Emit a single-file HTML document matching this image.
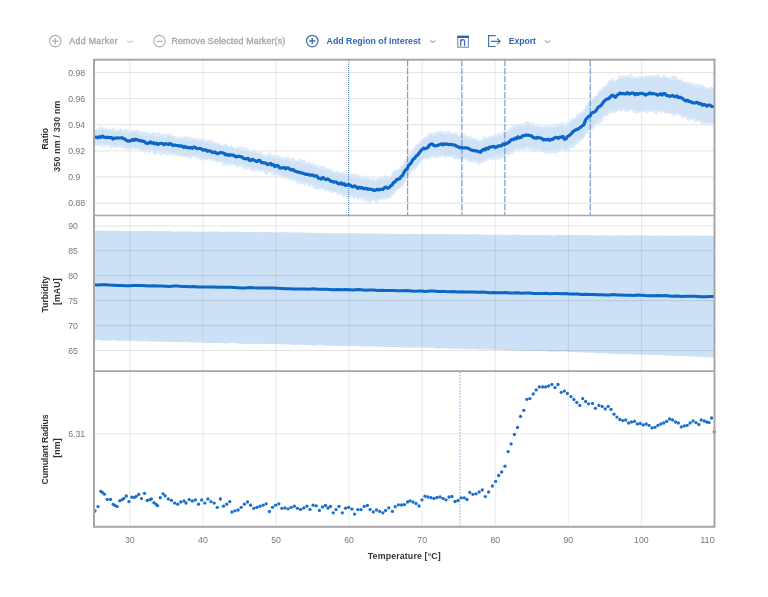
<!DOCTYPE html>
<html><head><meta charset="utf-8"><title>Chart</title>
<style>
html,body{margin:0;padding:0;background:#fff;width:768px;height:597px;overflow:hidden}
svg{display:block;filter:blur(0.4px);font-family:"Liberation Sans",Arial,sans-serif}
.tb{font-size:8.8px;font-weight:bold}
.tick{font-size:9.8px;fill:#787878}
.ttl{font-size:8.8px;font-weight:bold;fill:#333}
</style></head><body>
<svg width="768" height="597" viewBox="0 0 768 597">
<rect width="768" height="597" fill="#fff"/>
<!-- toolbar -->
<g class="tb">
 <g fill="none" stroke="#b0b0b0" stroke-width="1.15">
  <circle cx="55.25" cy="41.05" r="5.75"/><path d="M55.25 37.9V44.2M52.1 41.05H58.4" stroke-width="1.3"/>
  <path d="M127.2 40.6L129.9 42.6L132.6 40.6" stroke="#c4c4c4"/>
  <circle cx="159.55" cy="41.1" r="5.75"/><path d="M156.6 41.4H162.6" stroke-width="1.3"/>
 </g>
 <text x="69.3" y="44.4" fill="#a6a6a6" font-weight="normal" stroke="#a6a6a6" stroke-width="0.35" textLength="48.4">Add Marker</text>
 <text x="171.4" y="44.4" fill="#a6a6a6" font-weight="normal" stroke="#a6a6a6" stroke-width="0.35" textLength="113.8">Remove Selected Marker(s)</text>
 <g fill="none" stroke="#3f6db0" stroke-width="1.2">
  <circle cx="312.25" cy="41.05" r="5.75"/><path d="M312.25 37.9V44.2M309.1 41.05H315.4" stroke-width="1.4"/>
  <path d="M430 40.6L432.7 42.6L435.4 40.6" stroke="#9cb3d6"/>
  <rect x="457.8" y="36.2" width="10.6" height="11" stroke="#6f8fbf" stroke-width="1.1"/>
  <path d="M457.3 36.9H468.9" stroke-width="2.2" stroke="#2f62ad"/>
  <path d="M460.7 46V39.2M460.7 41.6Q461.3 39.6 462.9 39.6Q464.6 39.6 464.6 41.4V46" stroke-width="1.3" stroke="#4a6fa8"/>
  <path d="M495.8 35.6H488.6V46.5H495.8M491 41.3H499.8M497.2 38.5L500.2 41.3L497.2 44.1" stroke-width="1.15" stroke="#4670ad"/>
  <path d="M544.8 40.6L547.5 42.6L550.2 40.6" stroke="#9cb3d6"/>
 </g>
 <text x="326.6" y="44.4" fill="#2e68b8" textLength="94.2">Add Region of Interest</text>
 <text x="508.7" y="44.4" fill="#2e68b8" textLength="27.3">Export</text>
</g>
<!-- middle band -->
<path d="M93.5,230.8 L97.5,230.4 L101.5,230.7 L105.5,230.6 L109.5,230.8 L113.5,230.7 L117.5,230.6 L121.5,231 L125.5,230.9 L129.5,231 L133.5,231.1 L137.5,231.2 L141.5,230.7 L145.5,230.9 L149.5,230.8 L153.5,231.1 L157.5,231.3 L161.5,231.3 L165.5,230.9 L169.5,231 L173.5,231.5 L177.5,231.4 L181.5,231.3 L185.5,231.4 L189.5,231.2 L193.5,231.7 L197.5,231.4 L201.5,231.8 L205.5,231.6 L209.5,231.4 L213.5,231.5 L217.5,231.5 L221.5,232 L225.5,231.8 L229.5,231.5 L233.5,231.6 L237.5,231.8 L241.5,231.9 L245.5,232 L249.5,231.9 L253.5,232 L257.5,231.8 L261.5,232.2 L265.5,232.1 L269.5,232 L273.5,232.3 L277.5,232.6 L281.5,232.1 L285.5,232.2 L289.5,232.6 L293.5,232.4 L297.5,232.5 L301.5,232.6 L305.5,232.5 L309.5,232.8 L313.5,232.8 L317.5,233.1 L321.5,233.2 L325.5,232.7 L329.5,233 L333.5,233.2 L337.5,233.3 L341.5,233.3 L345.5,233.3 L349.5,233.3 L353.5,233.2 L357.5,233.2 L361.5,233.6 L365.5,233.6 L369.5,233.7 L373.5,233.6 L377.5,233.5 L381.5,233.8 L385.5,233.8 L389.5,233.7 L393.5,233.9 L397.5,233.7 L401.5,233.9 L405.5,233.9 L409.5,233.7 L413.5,233.9 L417.5,233.9 L421.5,234.3 L425.5,234.1 L429.5,234 L433.5,234 L437.5,234 L441.5,234.1 L445.5,234 L449.5,234 L453.5,234.5 L457.5,234.3 L461.5,234.3 L465.5,234.4 L469.5,234.3 L473.5,234.3 L477.5,234.2 L481.5,234.4 L485.5,234.5 L489.5,234.7 L493.5,234.7 L497.5,234.9 L501.5,234.6 L505.5,235 L509.5,234.8 L513.5,234.5 L517.5,234.6 L521.5,234.9 L525.5,235.2 L529.5,234.8 L533.5,235.1 L537.5,235 L541.5,235.3 L545.5,234.8 L549.5,235.1 L553.5,235.4 L557.5,235 L561.5,235 L565.5,234.9 L569.5,235 L573.5,235.1 L577.5,235.3 L581.5,235.1 L585.5,235.2 L589.5,235.1 L593.5,235.3 L597.5,235.5 L601.5,235.4 L605.5,235.1 L609.5,235.5 L613.5,235.6 L617.5,235.4 L621.5,235.1 L625.5,235.6 L629.5,235.6 L633.5,235.3 L637.5,235.2 L641.5,235.3 L645.5,235.5 L649.5,235.7 L653.5,235.6 L657.5,235.8 L661.5,235.4 L665.5,235.5 L669.5,235.7 L673.5,235.7 L677.5,235.6 L681.5,235.7 L685.5,235.5 L689.5,235.4 L693.5,235.6 L697.5,235.4 L701.5,235.8 L705.5,235.6 L709.5,235.8 L713.5,235.9 L714.5,235.7 L714.5,357.3 L713.5,357.1 L709.5,357.2 L705.5,357.2 L701.5,356.7 L697.5,356.8 L693.5,356.4 L689.5,356.4 L685.5,356 L681.5,356.1 L677.5,355.7 L673.5,356.1 L669.5,355.6 L665.5,355.8 L661.5,355.1 L657.5,355 L653.5,355.1 L649.5,354.8 L645.5,354.8 L641.5,354.4 L637.5,354.6 L633.5,354.5 L629.5,354.1 L625.5,353.8 L621.5,354.2 L617.5,354 L613.5,353.8 L609.5,353.7 L605.5,353.2 L601.5,352.9 L597.5,353.2 L593.5,352.7 L589.5,352.5 L585.5,352.7 L581.5,352.2 L577.5,352.6 L573.5,351.9 L569.5,352.3 L565.5,351.6 L561.5,351.4 L557.5,351.5 L553.5,351.7 L549.5,351.5 L545.5,351 L541.5,351.3 L537.5,351.1 L533.5,350.8 L529.5,351 L525.5,350.5 L521.5,350.7 L517.5,350.5 L513.5,350.3 L509.5,350.2 L505.5,350.2 L501.5,349.8 L497.5,350.1 L493.5,349.7 L489.5,349.5 L485.5,349.4 L481.5,349.6 L477.5,349.5 L473.5,349.1 L469.5,349.3 L465.5,349.2 L461.5,348.7 L457.5,348.8 L453.5,348.5 L449.5,348.8 L445.5,348.3 L441.5,348.4 L437.5,348.4 L433.5,347.9 L429.5,347.8 L425.5,347.8 L421.5,347.6 L417.5,347.5 L413.5,347.4 L409.5,347.5 L405.5,347.6 L401.5,347.5 L397.5,347.1 L393.5,347.1 L389.5,346.7 L385.5,347.1 L381.5,346.7 L377.5,346.8 L373.5,346.3 L369.5,346.7 L365.5,346.2 L361.5,346.6 L357.5,346.1 L353.5,346.1 L349.5,346.2 L345.5,345.9 L341.5,346 L337.5,345.8 L333.5,346 L329.5,345.5 L325.5,345.7 L321.5,345.1 L317.5,345.1 L313.5,345.5 L309.5,345.3 L305.5,344.9 L301.5,344.8 L297.5,344.8 L293.5,345.1 L289.5,344.5 L285.5,344.6 L281.5,344.5 L277.5,344.2 L273.5,344.1 L269.5,344 L265.5,343.9 L261.5,344.2 L257.5,343.8 L253.5,344.2 L249.5,343.7 L245.5,343.9 L241.5,343.7 L237.5,343.5 L233.5,343.1 L229.5,343.1 L225.5,343.5 L221.5,343.1 L217.5,342.9 L213.5,342.9 L209.5,343.1 L205.5,342.9 L201.5,342.5 L197.5,342.7 L193.5,342.6 L189.5,342.5 L185.5,342.1 L181.5,342.3 L177.5,342 L173.5,342.1 L169.5,342 L165.5,341.8 L161.5,341.8 L157.5,341.6 L153.5,341.5 L149.5,341.6 L145.5,341.1 L141.5,341.4 L137.5,340.9 L133.5,340.8 L129.5,340.7 L125.5,340.8 L121.5,340.9 L117.5,340.7 L113.5,340.3 L109.5,340.8 L105.5,340.4 L101.5,340.5 L97.5,339.9 L93.5,340.1Z" fill="#cde1f6"/>
<!-- gridlines -->
<g stroke="#000" stroke-opacity="0.085" stroke-width="1"><line x1="129.8" y1="59" x2="129.8" y2="527"/><line x1="202.9" y1="59" x2="202.9" y2="527"/><line x1="276" y1="59" x2="276" y2="527"/><line x1="349.1" y1="59" x2="349.1" y2="527"/><line x1="422.2" y1="59" x2="422.2" y2="527"/><line x1="495.3" y1="59" x2="495.3" y2="527"/><line x1="568.3" y1="59" x2="568.3" y2="527"/><line x1="641.4" y1="59" x2="641.4" y2="527"/></g>
<g stroke="#000" stroke-opacity="0.115" stroke-width="1"><line x1="93.5" y1="72.6" x2="714.5" y2="72.6"/><line x1="93.5" y1="98.7" x2="714.5" y2="98.7"/><line x1="93.5" y1="124.8" x2="714.5" y2="124.8"/><line x1="93.5" y1="150.9" x2="714.5" y2="150.9"/><line x1="93.5" y1="177" x2="714.5" y2="177"/><line x1="93.5" y1="203.2" x2="714.5" y2="203.2"/><line x1="93.5" y1="225.9" x2="714.5" y2="225.9"/><line x1="93.5" y1="250.8" x2="714.5" y2="250.8"/><line x1="93.5" y1="275.7" x2="714.5" y2="275.7"/><line x1="93.5" y1="300.7" x2="714.5" y2="300.7"/><line x1="93.5" y1="325.6" x2="714.5" y2="325.6"/><line x1="93.5" y1="350.5" x2="714.5" y2="350.5"/><line x1="93.5" y1="433.9" x2="714.5" y2="433.9"/></g>
<!-- top band -->
<g opacity="0.93"><path d="M93.5,128.3 L95,129.5 L96.5,128.4 L98,128.8 L99.5,126.9 L101,126.4 L102.5,127.8 L104,127 L105.5,127.4 L107,128.6 L108.5,129.4 L110,127.7 L111.5,129.5 L113,127.1 L114.5,127.9 L116,130.8 L117.5,130.1 L119,129.4 L120.5,127.1 L122,130.3 L123.5,129.7 L125,129.1 L126.5,129 L128,129.7 L129.5,131.4 L131,129 L132.5,131.1 L134,129.5 L135.5,131.2 L137,129 L138.5,130.6 L140,132 L141.5,130.6 L143,131.9 L144.5,131.9 L146,132 L147.5,132.1 L149,133.9 L150.5,132.2 L152,133.7 L153.5,131.3 L155,133 L156.5,133.2 L158,133.6 L159.5,132.3 L161,134.7 L162.5,132.8 L164,133.9 L165.5,133.1 L167,134.4 L168.5,132.7 L170,135.1 L171.5,133.4 L173,136.6 L174.5,135.4 L176,137.3 L177.5,137.4 L179,137.3 L180.5,137.4 L182,136.2 L183.5,137.9 L185,135.8 L186.5,137.2 L188,136 L189.5,138.4 L191,136 L192.5,138.4 L194,138.6 L195.5,137.9 L197,138.5 L198.5,138.2 L200,138.8 L201.5,139.1 L203,137.9 L204.5,139.9 L206,141 L207.5,140 L209,140.2 L210.5,139.3 L212,139.7 L213.5,141.7 L215,142.7 L216.5,143.3 L218,142.8 L219.5,143 L221,144.9 L222.5,144.8 L224,144.6 L225.5,143 L227,144.5 L228.5,146.4 L230,146.4 L231.5,144.1 L233,146.9 L234.5,147.7 L236,147.7 L237.5,146.8 L239,146 L240.5,147.4 L242,145.9 L243.5,146.6 L245,148.7 L246.5,147.3 L248,147.7 L249.5,150.1 L251,151.3 L252.5,150.5 L254,149.1 L255.5,151.2 L257,152 L258.5,152.9 L260,150.8 L261.5,151.9 L263,153.8 L264.5,154.9 L266,154.5 L267.5,154.2 L269,153.1 L270.5,152.3 L272,155.1 L273.5,155.3 L275,154.6 L276.5,156.9 L278,155 L279.5,155.8 L281,156.4 L282.5,157.8 L284,158.1 L285.5,156.4 L287,156.9 L288.5,156.5 L290,159.3 L291.5,158 L293,157 L294.5,159.4 L296,160 L297.5,161.3 L299,159 L300.5,158.6 L302,160.3 L303.5,159.4 L305,159.6 L306.5,163.4 L308,161.1 L309.5,162.6 L311,164.2 L312.5,162.9 L314,162.4 L315.5,165.6 L317,163.3 L318.5,166.5 L320,167.1 L321.5,165.3 L323,165.5 L324.5,166 L326,167.7 L327.5,168.4 L329,168.4 L330.5,169.8 L332,168.5 L333.5,171.6 L335,171.9 L336.5,169.8 L338,171.8 L339.5,172 L341,172.8 L342.5,170.9 L344,172.7 L345.5,173.2 L347,172.9 L348.5,174.1 L350,173.6 L351.5,174.4 L353,173.5 L354.5,173.5 L356,174.1 L357.5,174.4 L359,175.7 L360.5,174.9 L362,177.2 L363.5,177.2 L365,174.8 L366.5,176.3 L368,178.3 L369.5,176 L371,179.4 L372.5,176.8 L374,177.1 L375.5,179.8 L377,178.6 L378.5,178.1 L380,175.8 L381.5,177.9 L383,176.2 L384.5,174.9 L386,175.6 L387.5,175.5 L389,177.3 L390.5,176.2 L392,171.7 L393.5,171.6 L395,169.7 L396.5,169.5 L398,169.7 L399.5,168.6 L401,164.1 L402.5,165 L404,160.4 L405.5,159.7 L407,156.2 L408.5,154.5 L410,152 L411.5,149.9 L413,149.6 L414.5,145.7 L416,143.9 L417.5,144.5 L419,142.7 L420.5,140.1 L422,140 L423.5,138.6 L425,135.5 L426.5,137.3 L428,134.4 L429.5,132.6 L431,132.4 L432.5,133.3 L434,132 L435.5,131.2 L437,132.5 L438.5,130.2 L440,131.8 L441.5,129.7 L443,132.7 L444.5,130.5 L446,132.5 L447.5,130.7 L449,131.1 L450.5,132.3 L452,131.7 L453.5,134.2 L455,131.2 L456.5,131.7 L458,135.4 L459.5,135 L461,133.4 L462.5,133.2 L464,134.4 L465.5,134.8 L467,136.5 L468.5,136.9 L470,135.8 L471.5,137 L473,139.1 L474.5,138.1 L476,138 L477.5,139.5 L479,140.1 L480.5,140.5 L482,139.2 L483.5,137.5 L485,136.1 L486.5,138 L488,136.8 L489.5,135.4 L491,135.8 L492.5,135.8 L494,133.9 L495.5,135.8 L497,134.5 L498.5,132.5 L500,132.7 L501.5,134.7 L503,130.8 L504.5,131.6 L506,130.7 L507.5,131 L509,128.7 L510.5,127.1 L512,126.9 L513.5,125 L515,124.9 L516.5,124.2 L518,122.9 L519.5,124 L521,123.4 L522.5,122.6 L524,124.7 L525.5,121.7 L527,121.8 L528.5,120.7 L530,123.6 L531.5,122.9 L533,122.6 L534.5,123.5 L536,125.5 L537.5,124.4 L539,124.8 L540.5,126.1 L542,126.7 L543.5,125.6 L545,126.4 L546.5,124.8 L548,125.7 L549.5,125.6 L551,125.7 L552.5,126 L554,126.4 L555.5,122.9 L557,125.7 L558.5,122.7 L560,124.2 L561.5,121.3 L563,122.9 L564.5,123.4 L566,123.5 L567.5,122.2 L569,122.6 L570.5,118.5 L572,119.1 L573.5,118.3 L575,117.7 L576.5,114.2 L578,114.1 L579.5,112.6 L581,112.2 L582.5,110.4 L584,110.5 L585.5,105.7 L587,103.9 L588.5,102.2 L590,98.4 L591.5,98.7 L593,98.1 L594.5,95.6 L596,96.2 L597.5,93.4 L599,89.6 L600.5,90.3 L602,87.5 L603.5,86.5 L605,86.4 L606.5,84.3 L608,81.5 L609.5,80.2 L611,79.7 L612.5,78 L614,79 L615.5,80.7 L617,79.5 L618.5,76.7 L620,75.5 L621.5,76.1 L623,75.1 L624.5,75.1 L626,76.2 L627.5,73.9 L629,76.8 L630.5,73.7 L632,73.8 L633.5,77.3 L635,76.6 L636.5,77.3 L638,76.1 L639.5,76.3 L641,76.2 L642.5,76.2 L644,76.7 L645.5,74.5 L647,76.3 L648.5,75.5 L650,75.7 L651.5,75.2 L653,74.6 L654.5,75 L656,76.2 L657.5,74.1 L659,74 L660.5,76.7 L662,77 L663.5,73.6 L665,75.6 L666.5,77.8 L668,76.5 L669.5,78.2 L671,76.5 L672.5,75.8 L674,76 L675.5,75.9 L677,76.7 L678.5,79.4 L680,80 L681.5,78.2 L683,81.2 L684.5,81.8 L686,81.9 L687.5,81.7 L689,81.3 L690.5,83.4 L692,81.3 L693.5,84.6 L695,83.2 L696.5,82.9 L698,84.2 L699.5,84 L701,84.8 L702.5,84.6 L704,86.1 L705.5,87.6 L707,86.6 L708.5,88.6 L710,87.2 L711.5,85.4 L713,87.8 L714.5,86.5 L714.5,125.1 L713,125.8 L711.5,126.3 L710,123.7 L708.5,125.6 L707,125.6 L705.5,124.4 L704,124.7 L702.5,124.4 L701,123.2 L699.5,122.3 L698,120.2 L696.5,122.9 L695,122.2 L693.5,119.4 L692,121 L690.5,118.3 L689,121.3 L687.5,120.8 L686,119.6 L684.5,116.9 L683,119.1 L681.5,118.2 L680,115.5 L678.5,115.1 L677,113.7 L675.5,116.1 L674,116.4 L672.5,115.6 L671,113.4 L669.5,114 L668,112.8 L666.5,113.3 L665,114.1 L663.5,112.3 L662,112.6 L660.5,113.2 L659,111.6 L657.5,113.2 L656,114.6 L654.5,112.7 L653,112.3 L651.5,111.3 L650,112.9 L648.5,111.7 L647,114 L645.5,111.2 L644,111.5 L642.5,112.7 L641,111.7 L639.5,113 L638,113.1 L636.5,113 L635,113.6 L633.5,112.5 L632,110.6 L630.5,110.6 L629,111.3 L627.5,111.9 L626,112.2 L624.5,111.3 L623,110 L621.5,111.4 L620,111.8 L618.5,110.2 L617,112.1 L615.5,112.7 L614,113.2 L612.5,112.2 L611,113.8 L609.5,113.6 L608,116.2 L606.5,116.5 L605,115.6 L603.5,118.6 L602,121.7 L600.5,122.9 L599,123.1 L597.5,124.7 L596,124.1 L594.5,126.7 L593,129.3 L591.5,129.5 L590,131.6 L588.5,133.4 L587,133.8 L585.5,134.2 L584,138.4 L582.5,139.2 L581,140.2 L579.5,143 L578,143.4 L576.5,144.4 L575,146.1 L573.5,147.2 L572,147.8 L570.5,149.1 L569,150.1 L567.5,149.4 L566,153.3 L564.5,151.3 L563,149.2 L561.5,152.3 L560,149.6 L558.5,152.7 L557,152.8 L555.5,153.2 L554,153.7 L552.5,152.4 L551,153.9 L549.5,153.7 L548,152.9 L546.5,154.7 L545,152.8 L543.5,152.4 L542,151.9 L540.5,151.6 L539,150.4 L537.5,150.9 L536,152.6 L534.5,151.7 L533,152.3 L531.5,150.3 L530,150 L528.5,149.9 L527,147.9 L525.5,150.5 L524,149.8 L522.5,150.8 L521,149.4 L519.5,151.2 L518,150.4 L516.5,150.6 L515,149.6 L513.5,153.8 L512,153.8 L510.5,154.3 L509,156 L507.5,155.1 L506,156.2 L504.5,157.2 L503,157.4 L501.5,157.9 L500,159.5 L498.5,158.8 L497,160.6 L495.5,158.6 L494,159.7 L492.5,160.7 L491,158.9 L489.5,159.4 L488,159.3 L486.5,161.7 L485,161.3 L483.5,162.7 L482,162.7 L480.5,164.2 L479,164.2 L477.5,164.5 L476,161.7 L474.5,163.3 L473,162 L471.5,162.9 L470,162.3 L468.5,161.2 L467,160.7 L465.5,161.1 L464,158.2 L462.5,158.7 L461,160.1 L459.5,159.2 L458,160.1 L456.5,158.2 L455,159.8 L453.5,158.9 L452,156.9 L450.5,156.7 L449,157.2 L447.5,156.5 L446,159 L444.5,156.9 L443,156.5 L441.5,157.1 L440,157.3 L438.5,157.1 L437,158.5 L435.5,159.1 L434,157.1 L432.5,157.8 L431,157.8 L429.5,157.8 L428,160.3 L426.5,159.7 L425,159.3 L423.5,158.9 L422,160.3 L420.5,163 L419,164.5 L417.5,167.4 L416,168.8 L414.5,169.8 L413,170.9 L411.5,171.5 L410,176.1 L408.5,178 L407,179.1 L405.5,182.7 L404,184.2 L402.5,187.9 L401,187.1 L399.5,188.6 L398,189.3 L396.5,190.8 L395,193.6 L393.5,195.5 L392,195.9 L390.5,198.2 L389,198.7 L387.5,198.5 L386,200.3 L384.5,199.1 L383,199.9 L381.5,199.4 L380,199.4 L378.5,200.5 L377,202.9 L375.5,203.3 L374,200.4 L372.5,200.7 L371,203.1 L369.5,202.5 L368,202.2 L366.5,201.5 L365,200.3 L363.5,200.9 L362,200.6 L360.5,198.5 L359,198.6 L357.5,201 L356,197.3 L354.5,200 L353,198.6 L351.5,197.1 L350,198.2 L348.5,198.3 L347,197.8 L345.5,198 L344,196.5 L342.5,196.9 L341,194.4 L339.5,194.1 L338,196.1 L336.5,193.4 L335,192.4 L333.5,192.5 L332,193.5 L330.5,192.5 L329,191.6 L327.5,190.4 L326,191.8 L324.5,191.1 L323,188.4 L321.5,188.5 L320,189.6 L318.5,189.1 L317,190 L315.5,189 L314,189.1 L312.5,186.4 L311,185.5 L309.5,186.7 L308,186.2 L306.5,184.1 L305,185.2 L303.5,185.6 L302,183.3 L300.5,183.9 L299,184.8 L297.5,183.6 L296,182.1 L294.5,181.1 L293,181.5 L291.5,179.4 L290,180.6 L288.5,179.7 L287,177.6 L285.5,180 L284,177.9 L282.5,176.5 L281,177.5 L279.5,176.3 L278,175.9 L276.5,174.3 L275,174.6 L273.5,176.4 L272,174.1 L270.5,172.4 L269,171.7 L267.5,174.2 L266,175.5 L264.5,172.6 L263,171.1 L261.5,170.8 L260,172.1 L258.5,171.3 L257,169.9 L255.5,170.2 L254,172.1 L252.5,171.5 L251,170 L249.5,169 L248,169.1 L246.5,169.5 L245,169.4 L243.5,169.4 L242,166.4 L240.5,166.7 L239,166.3 L237.5,168.4 L236,165.3 L234.5,165.5 L233,164.8 L231.5,165.2 L230,167 L228.5,163.9 L227,166.4 L225.5,166.1 L224,165.2 L222.5,165.6 L221,162.2 L219.5,162.8 L218,161.4 L216.5,163.8 L215,161.1 L213.5,160.4 L212,161.3 L210.5,160.7 L209,159.3 L207.5,159.4 L206,161.5 L204.5,159.4 L203,160.5 L201.5,159.6 L200,160.1 L198.5,159.3 L197,157.8 L195.5,158.2 L194,156.6 L192.5,156.4 L191,158.4 L189.5,159.6 L188,157 L186.5,157.2 L185,157 L183.5,156 L182,158.2 L180.5,155.8 L179,155.3 L177.5,156.8 L176,155.7 L174.5,154.2 L173,157 L171.5,153.4 L170,155.9 L168.5,154.3 L167,155.9 L165.5,153.7 L164,154.5 L162.5,154.8 L161,155.7 L159.5,154.2 L158,152.5 L156.5,154.8 L155,154.3 L153.5,154.4 L152,151.6 L150.5,151.4 L149,154.2 L147.5,152.1 L146,152.6 L144.5,153.8 L143,151 L141.5,152.1 L140,149.6 L138.5,150.7 L137,148.6 L135.5,149.8 L134,148.5 L132.5,148.7 L131,149.5 L129.5,149.1 L128,150.3 L126.5,148.5 L125,148.9 L123.5,149 L122,146.4 L120.5,148.1 L119,147 L117.5,147.2 L116,148.4 L114.5,147.1 L113,147 L111.5,148.8 L110,147.9 L108.5,145.1 L107,146.9 L105.5,145.2 L104,148 L102.5,145.7 L101,147.8 L99.5,145.6 L98,145.6 L96.5,146.3 L95,146.2 L93.5,144.9Z" fill="#dbe9f9"/>
<path d="M93.5,131.2 L95,131 L96.5,130.5 L98,130.2 L99.5,130.5 L101,130.8 L102.5,129 L104,129.7 L105.5,130.5 L107,129.1 L108.5,130.8 L110,130.5 L111.5,131.5 L113,131.6 L114.5,131.4 L116,131.7 L117.5,130.5 L119,131.4 L120.5,130.7 L122,131.1 L123.5,131.4 L125,133.2 L126.5,132 L128,133.6 L129.5,133.5 L131,134 L132.5,132.9 L134,132 L135.5,132 L137,132.8 L138.5,133.3 L140,133.3 L141.5,135.3 L143,133.9 L144.5,135.6 L146,135.4 L147.5,135.2 L149,134.2 L150.5,135.9 L152,135.5 L153.5,136.1 L155,136.7 L156.5,136.7 L158,135.8 L159.5,135.9 L161,135.8 L162.5,136.9 L164,136.8 L165.5,137.7 L167,137 L168.5,135.9 L170,136 L171.5,137.3 L173,137.8 L174.5,137.9 L176,139.2 L177.5,137.9 L179,138.2 L180.5,139.7 L182,139.7 L183.5,139.8 L185,139.6 L186.5,138.7 L188,140.4 L189.5,140.5 L191,140.3 L192.5,139.2 L194,139.4 L195.5,140 L197,140 L198.5,141.4 L200,142 L201.5,140.9 L203,141.6 L204.5,143.1 L206,141.8 L207.5,141.9 L209,143.5 L210.5,143 L212,144.3 L213.5,144.4 L215,144.2 L216.5,145.4 L218,144.5 L219.5,145 L221,145.1 L222.5,146.7 L224,145.6 L225.5,146.3 L227,146.3 L228.5,146.5 L230,148.2 L231.5,148.1 L233,148 L234.5,148.5 L236,150 L237.5,148.5 L239,150.4 L240.5,150.3 L242,151 L243.5,150.9 L245,149.8 L246.5,151.7 L248,150.9 L249.5,152.9 L251,152.6 L252.5,152.1 L254,153.4 L255.5,152.4 L257,153.6 L258.5,153.2 L260,154.1 L261.5,155.3 L263,154.9 L264.5,156.7 L266,156.9 L267.5,157 L269,157 L270.5,156.5 L272,158 L273.5,158.5 L275,157.8 L276.5,158.6 L278,159 L279.5,158.7 L281,159.8 L282.5,159.2 L284,160.8 L285.5,159.9 L287,160.1 L288.5,159.5 L290,161.4 L291.5,160.9 L293,161.4 L294.5,162.6 L296,161.3 L297.5,161.7 L299,161.5 L300.5,163.1 L302,162.2 L303.5,163.7 L305,164.3 L306.5,165 L308,163.8 L309.5,165.1 L311,165.1 L312.5,165.9 L314,166.7 L315.5,166.4 L317,168.1 L318.5,168.8 L320,168.5 L321.5,169.5 L323,168.7 L324.5,169.6 L326,169 L327.5,170 L329,171.3 L330.5,171.9 L332,171 L333.5,173.3 L335,172.5 L336.5,173.5 L338,173.5 L339.5,173.5 L341,173 L342.5,175.3 L344,175.6 L345.5,175.7 L347,176.3 L348.5,176.2 L350,176.7 L351.5,176.8 L353,177.3 L354.5,177.5 L356,178.8 L357.5,178 L359,178 L360.5,180 L362,178.6 L363.5,179 L365,178.1 L366.5,178.9 L368,179.3 L369.5,179.2 L371,181.1 L372.5,180.8 L374,180.4 L375.5,181 L377,180.8 L378.5,179.8 L380,179.1 L381.5,179.3 L383,178.3 L384.5,179.9 L386,179 L387.5,178.1 L389,177.8 L390.5,176.7 L392,176.6 L393.5,173.5 L395,172.7 L396.5,171.1 L398,171.8 L399.5,169.3 L401,168.1 L402.5,166.8 L404,165.3 L405.5,162.7 L407,160.3 L408.5,158.2 L410,156.2 L411.5,154 L413,151.9 L414.5,149.6 L416,148 L417.5,146.9 L419,144.9 L420.5,142.8 L422,141.6 L423.5,139.5 L425,138.8 L426.5,138.9 L428,137.3 L429.5,135.4 L431,134.1 L432.5,135.1 L434,135.9 L435.5,135.6 L437,135.3 L438.5,133.7 L440,132.3 L441.5,133.7 L443,134.7 L444.5,134.2 L446,134.3 L447.5,134.8 L449,134.3 L450.5,134.4 L452,135.2 L453.5,134.2 L455,135 L456.5,135.8 L458,137.1 L459.5,136.5 L461,137.9 L462.5,137.2 L464,136.6 L465.5,138.6 L467,138.3 L468.5,139.7 L470,140.3 L471.5,140.6 L473,139.4 L474.5,140.4 L476,140.1 L477.5,141.5 L479,141.4 L480.5,142 L482,141 L483.5,140.3 L485,139.1 L486.5,140.1 L488,139.2 L489.5,138.2 L491,137.4 L492.5,137.8 L494,137.7 L495.5,136.5 L497,137.5 L498.5,135.9 L500,136.4 L501.5,135.8 L503,133.9 L504.5,134.5 L506,133.6 L507.5,131.7 L509,130.7 L510.5,130.9 L512,129.7 L513.5,127.9 L515,128.1 L516.5,127.4 L518,126.7 L519.5,127.7 L521,126.1 L522.5,126.7 L524,125.9 L525.5,125.2 L527,124.2 L528.5,125 L530,124.6 L531.5,125.5 L533,125.5 L534.5,126.3 L536,127.8 L537.5,127.1 L539,127.2 L540.5,127.2 L542,127.2 L543.5,128.3 L545,128.5 L546.5,128.5 L548,129.3 L549.5,128.1 L551,127.6 L552.5,128.6 L554,127.3 L555.5,127.6 L557,126.4 L558.5,126.2 L560,125.6 L561.5,125.5 L563,124.7 L564.5,127.7 L566,127.8 L567.5,125 L569,123.8 L570.5,122.9 L572,121.2 L573.5,119.7 L575,119 L576.5,118 L578,116.2 L579.5,114.6 L581,114.2 L582.5,113 L584,112.8 L585.5,107.9 L587,106.1 L588.5,103.8 L590,102.2 L591.5,102.1 L593,100.7 L594.5,97.9 L596,96.1 L597.5,95.7 L599,93.6 L600.5,92.6 L602,91.3 L603.5,89.3 L605,86.7 L606.5,86.5 L608,83.7 L609.5,82.5 L611,81.7 L612.5,80.6 L614,82.1 L615.5,82.7 L617,81.2 L618.5,79 L620,77.7 L621.5,78.8 L623,77.8 L624.5,79 L626,77.3 L627.5,77.3 L629,77.3 L630.5,78.3 L632,78.4 L633.5,78.8 L635,78.1 L636.5,79.3 L638,79.1 L639.5,78.5 L641,78.3 L642.5,77.3 L644,78.1 L645.5,79 L647,78.3 L648.5,77.8 L650,76.6 L651.5,78.4 L653,77.9 L654.5,77.3 L656,78.1 L657.5,77.8 L659,78.6 L660.5,77.6 L662,78 L663.5,78.7 L665,77.3 L666.5,77.8 L668,79 L669.5,80.2 L671,79.6 L672.5,80.3 L674,80.4 L675.5,79.1 L677,80.2 L678.5,80.2 L680,81.1 L681.5,82.2 L683,82.5 L684.5,83.2 L686,83.1 L687.5,85.3 L689,83.9 L690.5,86.1 L692,84.7 L693.5,85.8 L695,86.4 L696.5,87.4 L698,87 L699.5,87.3 L701,87 L702.5,87.4 L704,89.8 L705.5,89 L707,90.2 L708.5,88.8 L710,90.1 L711.5,89.1 L713,90.2 L714.5,89.3 L714.5,122.3 L713,121.8 L711.5,121.4 L710,122.5 L708.5,122.6 L707,123 L705.5,122.4 L704,121.2 L702.5,121.4 L701,119.4 L699.5,119 L698,120.1 L696.5,119.4 L695,117.9 L693.5,117.8 L692,118 L690.5,117.7 L689,117.6 L687.5,117.3 L686,115.4 L684.5,115.3 L683,115.3 L681.5,113.9 L680,114.5 L678.5,113.1 L677,112.3 L675.5,111.9 L674,112.9 L672.5,112.4 L671,113 L669.5,113 L668,112.3 L666.5,111 L665,110.8 L663.5,109.9 L662,110.2 L660.5,109.9 L659,110.8 L657.5,109.8 L656,109.9 L654.5,110.1 L653,109.6 L651.5,110 L650,109.4 L648.5,110.3 L647,109.1 L645.5,109.7 L644,110.5 L642.5,110.8 L641,110.2 L639.5,110.8 L638,110.5 L636.5,110 L635,109.3 L633.5,110.3 L632,109 L630.5,108 L629,109.5 L627.5,109.2 L626,108.1 L624.5,108.7 L623,107.3 L621.5,108.4 L620,106.6 L618.5,108.9 L617,109.5 L615.5,111.1 L614,109.8 L612.5,109.6 L611,110.1 L609.5,110.6 L608,111.5 L606.5,114 L605,115.6 L603.5,115.5 L602,117.2 L600.5,118.3 L599,120.6 L597.5,121.4 L596,123.5 L594.5,124 L593,126.3 L591.5,127.3 L590,127.7 L588.5,130 L587,130.7 L585.5,132.1 L584,137.5 L582.5,138.2 L581,138.9 L579.5,139.8 L578,139.2 L576.5,140.8 L575,142.7 L573.5,143.9 L572,144.3 L570.5,144.4 L569,146 L567.5,147.7 L566,150 L564.5,149.6 L563,146.8 L561.5,147.6 L560,149.7 L558.5,149.9 L557,149.7 L555.5,148.8 L554,150.6 L552.5,149.6 L551,150.4 L549.5,151.6 L548,151 L546.5,150.4 L545,151 L543.5,150.3 L542,150.9 L540.5,148.7 L539,149.1 L537.5,148.4 L536,148.5 L534.5,148 L533,147.5 L531.5,148.2 L530,147.8 L528.5,145.9 L527,146.3 L525.5,147.8 L524,148.1 L522.5,147.1 L521,148.5 L519.5,148.7 L518,147.3 L516.5,148.7 L515,149.6 L513.5,150.3 L512,150.1 L510.5,150.8 L509,152.7 L507.5,152.1 L506,152.9 L504.5,153.6 L503,153.6 L501.5,155.9 L500,156.6 L498.5,155.5 L497,155.6 L495.5,155.9 L494,156.5 L492.5,157.7 L491,157.1 L489.5,157.1 L488,157.1 L486.5,158.6 L485,158.7 L483.5,160.1 L482,161 L480.5,160.1 L479,162 L477.5,160.8 L476,159.6 L474.5,159.9 L473,159.3 L471.5,159.4 L470,160.4 L468.5,159.2 L467,157.4 L465.5,158.3 L464,157 L462.5,157.9 L461,156.8 L459.5,157.2 L458,156.5 L456.5,156.8 L455,155.8 L453.5,155.3 L452,155.5 L450.5,156.3 L449,155.5 L447.5,155 L446,155.3 L444.5,156.1 L443,155.5 L441.5,154.7 L440,153.6 L438.5,155.6 L437,154.5 L435.5,156 L434,154.9 L432.5,154 L431,154.6 L429.5,155 L428,156.3 L426.5,157.9 L425,157.3 L423.5,158.2 L422,158.9 L420.5,160.8 L419,162.3 L417.5,164.6 L416,165.1 L414.5,167.7 L413,168.6 L411.5,169 L410,171.3 L408.5,174.7 L407,176.6 L405.5,179.6 L404,181.7 L402.5,184.4 L401,186 L399.5,187 L398,188.8 L396.5,188.8 L395,190.9 L393.5,191.8 L392,193.6 L390.5,194.5 L389,196.7 L387.5,197.6 L386,197 L384.5,196.9 L383,197.4 L381.5,198.2 L380,198.3 L378.5,198.2 L377,199.1 L375.5,199.7 L374,200 L372.5,199.6 L371,199.2 L369.5,198.8 L368,197.8 L366.5,197.7 L365,196.8 L363.5,196.9 L362,197.6 L360.5,197.7 L359,197.6 L357.5,197.2 L356,196.1 L354.5,195.9 L353,195.2 L351.5,196.1 L350,194.4 L348.5,194 L347,193.2 L345.5,194.5 L344,193.6 L342.5,193.5 L341,191.8 L339.5,192.2 L338,191.2 L336.5,191.5 L335,191.4 L333.5,191.9 L332,190.5 L330.5,190.6 L329,190.1 L327.5,189.7 L326,187.8 L324.5,187.3 L323,188.4 L321.5,187.5 L320,187.1 L318.5,187.6 L317,185.5 L315.5,185.8 L314,185.9 L312.5,183.9 L311,183.4 L309.5,183.7 L308,182.5 L306.5,183.3 L305,181.7 L303.5,182.2 L302,181.9 L300.5,180.7 L299,180 L297.5,180.9 L296,179 L294.5,178.6 L293,177.5 L291.5,177.9 L290,177.1 L288.5,177.5 L287,176.8 L285.5,176.4 L284,176.3 L282.5,175.5 L281,174.7 L279.5,174.3 L278,174.1 L276.5,172.8 L275,173.8 L273.5,172 L272,171.8 L270.5,170.2 L269,171.8 L267.5,170.8 L266,170.3 L264.5,170.8 L263,169.4 L261.5,169.6 L260,169.1 L258.5,167.9 L257,168.3 L255.5,167.3 L254,167.3 L252.5,168.1 L251,166.6 L249.5,166.4 L248,166.4 L246.5,166 L245,164.5 L243.5,165 L242,164.1 L240.5,164.5 L239,163.8 L237.5,164 L236,165 L234.5,164.8 L233,163 L231.5,162.8 L230,162.4 L228.5,163.4 L227,163.2 L225.5,162.6 L224,161.5 L222.5,160.9 L221,160.5 L219.5,160.6 L218,161.3 L216.5,160.4 L215,159.2 L213.5,158.8 L212,159 L210.5,158.1 L209,158.5 L207.5,159 L206,157.9 L204.5,158.6 L203,158.4 L201.5,158.2 L200,156.4 L198.5,155.6 L197,155.3 L195.5,154.9 L194,154.7 L192.5,155.2 L191,156.2 L189.5,155.3 L188,156.3 L186.5,154.4 L185,155.8 L183.5,155.1 L182,153.6 L180.5,155.1 L179,153.7 L177.5,152.9 L176,154.6 L174.5,152.6 L173,152.5 L171.5,153.1 L170,151.8 L168.5,152.7 L167,151.7 L165.5,151.1 L164,152.8 L162.5,152.6 L161,150.8 L159.5,150.9 L158,150.3 L156.5,151.8 L155,151.2 L153.5,150.3 L152,149.7 L150.5,149.9 L149,150.9 L147.5,148.9 L146,149.5 L144.5,149 L143,149.6 L141.5,148.7 L140,147.6 L138.5,148.1 L137,147.7 L135.5,147.5 L134,146.5 L132.5,147.5 L131,147.6 L129.5,148.5 L128,146.9 L126.5,147.7 L125,146.7 L123.5,146.6 L122,144.8 L120.5,145 L119,144.1 L117.5,145.6 L116,146.2 L114.5,144.9 L113,146.1 L111.5,145.4 L110,143.8 L108.5,144.8 L107,144.5 L105.5,144.5 L104,143.9 L102.5,143.3 L101,143.5 L99.5,144.8 L98,144.5 L96.5,145.1 L95,144 L93.5,144.5Z" fill="#cde1f6"/></g>
<!-- marker lines -->
<g stroke="#5a88c6" stroke-width="1">
 <line x1="348.6" y1="60" x2="348.6" y2="215" stroke-dasharray="1 1" stroke="#5a88c6"/>
 <line x1="407.7" y1="60" x2="407.7" y2="215" stroke-dasharray="6.5 1.5"/>
 <line x1="461.9" y1="60" x2="461.9" y2="215" stroke-dasharray="6.5 1.5"/>
 <line x1="504.9" y1="60" x2="504.9" y2="215" stroke-dasharray="6.5 1.5"/>
 <line x1="590.2" y1="60" x2="590.2" y2="215" stroke-dasharray="6.5 1.5"/>
 <line x1="460" y1="372" x2="460" y2="526" stroke-dasharray="1.5 1.5" stroke="#7ea6da"/>
</g>
<path d="M93.5,136.7 L95,137.3 L96.5,137 L98,137.9 L99.5,136.6 L101,137.3 L102.5,136.1 L104,137.1 L105.5,137.6 L107,137.4 L108.5,137.4 L110,137.7 L111.5,137.5 L113,139 L114.5,138.1 L116,138.1 L117.5,137.9 L119,138 L120.5,138 L122,137.7 L123.5,138.6 L125,139 L126.5,140.6 L128,141.1 L129.5,140.9 L131,140.7 L132.5,139.4 L134,140.4 L135.5,139.2 L137,139.7 L138.5,140.4 L140,140.6 L141.5,141.1 L143,141.1 L144.5,141.7 L146,143.2 L147.5,143.4 L149,142.9 L150.5,141.9 L152,143.3 L153.5,142.7 L155,143.9 L156.5,143.1 L158,144.5 L159.5,143.5 L161,143.4 L162.5,143.5 L164,144.9 L165.5,143.6 L167,144 L168.5,144.6 L170,143.6 L171.5,144.2 L173,145.6 L174.5,145 L176,145.3 L177.5,145.5 L179,146.1 L180.5,145.8 L182,146 L183.5,147.4 L185,146.5 L186.5,147.6 L188,147.3 L189.5,148.1 L191,147.6 L192.5,148.3 L194,146.9 L195.5,147.5 L197,148.7 L198.5,148.5 L200,148.4 L201.5,149 L203,150.1 L204.5,149.7 L206,150 L207.5,151.3 L209,150.8 L210.5,151 L212,152.2 L213.5,152.5 L215,151.9 L216.5,153.4 L218,153.6 L219.5,152.8 L221,152.5 L222.5,152.9 L224,153.2 L225.5,154.8 L227,154.4 L228.5,155.4 L230,154.7 L231.5,155.2 L233,155.1 L234.5,155.8 L236,156.9 L237.5,156.5 L239,156.3 L240.5,156.8 L242,156.8 L243.5,158.5 L245,158.7 L246.5,159 L248,158.3 L249.5,160.3 L251,160.4 L252.5,159.3 L254,160.1 L255.5,161 L257,161.6 L258.5,160.3 L260,160.6 L261.5,162.6 L263,162.6 L264.5,163 L266,163 L267.5,164.6 L269,164 L270.5,163.4 L272,165.1 L273.5,164.6 L275,166.6 L276.5,165.7 L278,165.7 L279.5,167.8 L281,167.9 L282.5,167.8 L284,167.5 L285.5,168.8 L287,167.8 L288.5,168 L290,169.4 L291.5,170.1 L293,169.3 L294.5,170.8 L296,171.4 L297.5,172 L299,172.2 L300.5,172.6 L302,173.1 L303.5,173.4 L305,174.1 L306.5,174.4 L308,174.4 L309.5,175.2 L311,175.1 L312.5,174.8 L314,176.2 L315.5,175.7 L317,176.1 L318.5,178.2 L320,178.3 L321.5,179 L323,177.4 L324.5,178.9 L326,179.6 L327.5,178.9 L329,179.6 L330.5,181 L332,181.4 L333.5,182.2 L335,181.9 L336.5,182 L338,183.6 L339.5,183.8 L341,182.9 L342.5,184.4 L344,183.7 L345.5,185.3 L347,185.2 L348.5,184.4 L350,184.9 L351.5,186.2 L353,186.9 L354.5,185.9 L356,186.4 L357.5,188.4 L359,187.3 L360.5,187.9 L362,187.5 L363.5,188.6 L365,188.6 L366.5,188.3 L368,189.3 L369.5,189 L371,189.3 L372.5,189.7 L374,190.5 L375.5,190.1 L377,189.3 L378.5,190 L380,189.3 L381.5,189.3 L383,189.3 L384.5,187.7 L386,187.1 L387.5,188.3 L389,187.8 L390.5,185.9 L392,185.1 L393.5,182.5 L395,181.9 L396.5,179.8 L398,179 L399.5,179 L401,176.5 L402.5,175.6 L404,172.3 L405.5,170.1 L407,169.1 L408.5,165.5 L410,164.2 L411.5,162.2 L413,159.3 L414.5,158.6 L416,156.1 L417.5,155.3 L419,153.2 L420.5,151.3 L422,149.6 L423.5,148.1 L425,148.8 L426.5,148.1 L428,147.5 L429.5,144.9 L431,144 L432.5,144.1 L434,145.7 L435.5,145.9 L437,145.5 L438.5,145.1 L440,144.6 L441.5,143.9 L443,144.8 L444.5,143.8 L446,144.1 L447.5,144.2 L449,144.7 L450.5,144.3 L452,144.6 L453.5,145 L455,145 L456.5,146.3 L458,146.7 L459.5,147.7 L461,147.5 L462.5,147.9 L464,147.9 L465.5,147.9 L467,147.9 L468.5,148.5 L470,149.3 L471.5,150.1 L473,150.6 L474.5,150.5 L476,151 L477.5,151.2 L479,151.7 L480.5,152.3 L482,150.3 L483.5,149.3 L485,150 L486.5,148.1 L488,148.9 L489.5,147.1 L491,147 L492.5,146.6 L494,146.4 L495.5,147.7 L497,146.9 L498.5,145.9 L500,145.8 L501.5,145.9 L503,143.9 L504.5,144.7 L506,143.5 L507.5,143.1 L509,142.1 L510.5,140.4 L512,139.4 L513.5,139.7 L515,138.1 L516.5,138.8 L518,136.8 L519.5,137.8 L521,137.4 L522.5,135.9 L524,135.7 L525.5,135.2 L527,135 L528.5,135.2 L530,135.5 L531.5,135.9 L533,137.3 L534.5,137.9 L536,138.3 L537.5,137.3 L539,137.8 L540.5,138.1 L542,138.6 L543.5,140 L545,139.5 L546.5,139.9 L548,139.2 L549.5,140.3 L551,139.4 L552.5,139.4 L554,138.3 L555.5,137.4 L557,137.5 L558.5,138.3 L560,137.1 L561.5,137.2 L563,136.5 L564.5,139.3 L566,138.8 L567.5,136.4 L569,135.6 L570.5,134.5 L572,132.9 L573.5,131.1 L575,130.3 L576.5,129.3 L578,129.1 L579.5,128 L581,126.9 L582.5,125.6 L584,124.6 L585.5,119.9 L587,118.1 L588.5,116.5 L590,116 L591.5,113.2 L593,112.4 L594.5,111.9 L596,110.8 L597.5,108.3 L599,106.4 L600.5,105.9 L602,104.2 L603.5,102 L605,100.4 L606.5,99.3 L608,98.9 L609.5,97.9 L611,96 L612.5,95.1 L614,96.5 L615.5,97.4 L617,95.1 L618.5,94.3 L620,93.1 L621.5,93.7 L623,93.5 L624.5,93.8 L626,93.8 L627.5,92.6 L629,94.1 L630.5,93.6 L632,93.1 L633.5,93.1 L635,94.8 L636.5,93.4 L638,94.4 L639.5,93.6 L641,93.3 L642.5,93.4 L644,93.9 L645.5,95.1 L647,94.1 L648.5,94 L650,92.8 L651.5,93.8 L653,93.5 L654.5,94 L656,94 L657.5,95.1 L659,94.8 L660.5,93.7 L662,95 L663.5,93.6 L665,93.7 L666.5,95.5 L668,95.7 L669.5,96.1 L671,96.1 L672.5,95.4 L674,96.4 L675.5,96.7 L677,96 L678.5,97.7 L680,97.2 L681.5,97.9 L683,98.9 L684.5,100.2 L686,101 L687.5,100.2 L689,101.5 L690.5,101.7 L692,102.5 L693.5,102.9 L695,103 L696.5,102.4 L698,102.8 L699.5,104 L701,103.6 L702.5,105.2 L704,104.5 L705.5,105 L707,106.1 L708.5,105.2 L710,105.2 L711.5,106.3 L713,106.5 L714.5,106.7" fill="none" stroke="#0b66c6" stroke-width="3.2" stroke-linejoin="round"/>
<path d="M93.5,284.7 L97.5,285.1 L101.5,284.8 L105.5,284.8 L109.5,285.1 L113.5,285.3 L117.5,285.5 L121.5,285.5 L125.5,285.7 L129.5,285.8 L133.5,285.6 L137.5,285.6 L141.5,285.5 L145.5,285.7 L149.5,285.9 L153.5,285.7 L157.5,286.1 L161.5,285.9 L165.5,286.2 L169.5,286.6 L173.5,286.1 L177.5,286.1 L181.5,286.5 L185.5,286.4 L189.5,286.8 L193.5,286.4 L197.5,287 L201.5,287.1 L205.5,287.1 L209.5,287 L213.5,287 L217.5,287.3 L221.5,287.3 L225.5,287.3 L229.5,287.3 L233.5,287.5 L237.5,287.7 L241.5,287.9 L245.5,288 L249.5,287.6 L253.5,287.8 L257.5,287.9 L261.5,288.1 L265.5,288 L269.5,288 L273.5,288 L277.5,288.2 L281.5,288.4 L285.5,288.8 L289.5,288.8 L293.5,288.9 L297.5,289 L301.5,289.1 L305.5,289 L309.5,289.2 L313.5,288.8 L317.5,289.2 L321.5,289.3 L325.5,289.2 L329.5,289.4 L333.5,289.7 L337.5,289.5 L341.5,289.7 L345.5,289.5 L349.5,289.7 L353.5,290.1 L357.5,289.6 L361.5,289.8 L365.5,290.2 L369.5,290.1 L373.5,290 L377.5,290.4 L381.5,290.3 L385.5,290.5 L389.5,290.5 L393.5,290.6 L397.5,290.7 L401.5,290.7 L405.5,290.6 L409.5,290.7 L413.5,291.2 L417.5,291.1 L421.5,290.9 L425.5,291.4 L429.5,291.1 L433.5,291.1 L437.5,291.5 L441.5,291.4 L445.5,291.6 L449.5,291.7 L453.5,291.6 L457.5,291.9 L461.5,291.7 L465.5,292 L469.5,292.1 L473.5,291.9 L477.5,292.2 L481.5,292 L485.5,292.3 L489.5,292.7 L493.5,292.6 L497.5,292.7 L501.5,292.8 L505.5,292.5 L509.5,293.1 L513.5,293 L517.5,292.8 L521.5,293.3 L525.5,293.1 L529.5,293 L533.5,293.6 L537.5,293.4 L541.5,293.6 L545.5,293.3 L549.5,293.8 L553.5,293.4 L557.5,293.6 L561.5,293.8 L565.5,293.6 L569.5,294.1 L573.5,293.9 L577.5,294 L581.5,294.4 L585.5,294.3 L589.5,294.6 L593.5,294.5 L597.5,294.8 L601.5,294.7 L605.5,294.9 L609.5,295 L613.5,294.6 L617.5,295.1 L621.5,294.9 L625.5,295.2 L629.5,295.3 L633.5,295.4 L637.5,295.1 L641.5,295.3 L645.5,295.6 L649.5,295.8 L653.5,295.8 L657.5,295.4 L661.5,295.8 L665.5,295.6 L669.5,296 L673.5,296.2 L677.5,295.9 L681.5,296.4 L685.5,296.3 L689.5,296.2 L693.5,296.2 L697.5,296.4 L701.5,296.8 L705.5,296.7 L709.5,296.5 L713.5,296.5 L714.5,296.6" fill="none" stroke="#0b66c6" stroke-width="3" stroke-linejoin="round"/>
<g fill="#1a6fcc"><circle cx="95" cy="511" r="1.65"/><circle cx="98" cy="506.6" r="1.65"/><circle cx="100.8" cy="491.3" r="1.65"/><circle cx="102.4" cy="492.4" r="1.65"/><circle cx="104.4" cy="494.2" r="1.65"/><circle cx="107.2" cy="499.4" r="1.65"/><circle cx="110.5" cy="499.4" r="1.65"/><circle cx="113.2" cy="504.3" r="1.65"/><circle cx="114.9" cy="505.5" r="1.65"/><circle cx="117.1" cy="506.6" r="1.65"/><circle cx="119.7" cy="500.8" r="1.65"/><circle cx="122.1" cy="499.7" r="1.65"/><circle cx="123.8" cy="498.3" r="1.65"/><circle cx="126.3" cy="496" r="1.65"/><circle cx="129" cy="501.6" r="1.65"/><circle cx="131.8" cy="497.2" r="1.65"/><circle cx="134.3" cy="497.5" r="1.65"/><circle cx="136.3" cy="496.4" r="1.65"/><circle cx="138.7" cy="494.4" r="1.65"/><circle cx="141.5" cy="498.6" r="1.65"/><circle cx="144.5" cy="493.3" r="1.65"/><circle cx="147.3" cy="500.5" r="1.65"/><circle cx="149.8" cy="499.7" r="1.65"/><circle cx="151.4" cy="499" r="1.65"/><circle cx="154" cy="502.7" r="1.65"/><circle cx="156.2" cy="504.3" r="1.65"/><circle cx="157.5" cy="505.7" r="1.65"/><circle cx="160.3" cy="497.7" r="1.65"/><circle cx="163.1" cy="493.8" r="1.65"/><circle cx="165.2" cy="495.8" r="1.65"/><circle cx="168.3" cy="499" r="1.65"/><circle cx="171.5" cy="500.4" r="1.65"/><circle cx="174.6" cy="503.1" r="1.65"/><circle cx="177.7" cy="504.2" r="1.65"/><circle cx="180.8" cy="502" r="1.65"/><circle cx="184" cy="501" r="1.65"/><circle cx="186" cy="503" r="1.65"/><circle cx="189.2" cy="499.6" r="1.65"/><circle cx="192.3" cy="501" r="1.65"/><circle cx="195.4" cy="500" r="1.65"/><circle cx="198.5" cy="504.2" r="1.65"/><circle cx="201.7" cy="500" r="1.65"/><circle cx="204.8" cy="503.1" r="1.65"/><circle cx="207.9" cy="499" r="1.65"/><circle cx="211" cy="501.7" r="1.65"/><circle cx="214.2" cy="503.1" r="1.65"/><circle cx="217.3" cy="507.3" r="1.65"/><circle cx="220.4" cy="499" r="1.65"/><circle cx="223.5" cy="506.2" r="1.65"/><circle cx="226.7" cy="504.2" r="1.65"/><circle cx="229.8" cy="501.7" r="1.65"/><circle cx="231.9" cy="512" r="1.65"/><circle cx="235" cy="510.8" r="1.65"/><circle cx="238.1" cy="510" r="1.65"/><circle cx="241.2" cy="507.3" r="1.65"/><circle cx="244.4" cy="504.2" r="1.65"/><circle cx="247.5" cy="502" r="1.65"/><circle cx="250.6" cy="505.2" r="1.65"/><circle cx="253.8" cy="508.3" r="1.65"/><circle cx="256.9" cy="507.3" r="1.65"/><circle cx="260" cy="506.2" r="1.65"/><circle cx="263.1" cy="505.2" r="1.65"/><circle cx="266.2" cy="503.8" r="1.65"/><circle cx="269.4" cy="511.5" r="1.65"/><circle cx="272.5" cy="507.3" r="1.65"/><circle cx="275.6" cy="505.2" r="1.65"/><circle cx="278.8" cy="503.8" r="1.65"/><circle cx="281.9" cy="508.3" r="1.65"/><circle cx="285" cy="508" r="1.65"/><circle cx="288.1" cy="508.8" r="1.65"/><circle cx="291.2" cy="507.3" r="1.65"/><circle cx="294.4" cy="506.2" r="1.65"/><circle cx="297.5" cy="508.3" r="1.65"/><circle cx="300.6" cy="509.4" r="1.65"/><circle cx="303.8" cy="508" r="1.65"/><circle cx="306.9" cy="506.2" r="1.65"/><circle cx="310" cy="509.4" r="1.65"/><circle cx="313.1" cy="505.2" r="1.65"/><circle cx="316.2" cy="505.8" r="1.65"/><circle cx="319.4" cy="510.4" r="1.65"/><circle cx="322.5" cy="507" r="1.65"/><circle cx="325.5" cy="505.5" r="1.65"/><circle cx="328" cy="508" r="1.65"/><circle cx="330.5" cy="506.4" r="1.65"/><circle cx="333.2" cy="512.8" r="1.65"/><circle cx="336" cy="509.6" r="1.65"/><circle cx="339" cy="506.4" r="1.65"/><circle cx="342.3" cy="512.8" r="1.65"/><circle cx="345.5" cy="508.2" r="1.65"/><circle cx="348.7" cy="507.3" r="1.65"/><circle cx="351.9" cy="509.1" r="1.65"/><circle cx="354.6" cy="514.1" r="1.65"/><circle cx="357.8" cy="509.6" r="1.65"/><circle cx="361" cy="509.6" r="1.65"/><circle cx="364.2" cy="506.4" r="1.65"/><circle cx="367.4" cy="505.5" r="1.65"/><circle cx="370.1" cy="509.6" r="1.65"/><circle cx="373.3" cy="511.9" r="1.65"/><circle cx="376.5" cy="510" r="1.65"/><circle cx="379.7" cy="511.4" r="1.65"/><circle cx="382.9" cy="512.8" r="1.65"/><circle cx="385.6" cy="510.5" r="1.65"/><circle cx="388.8" cy="507.8" r="1.65"/><circle cx="392.4" cy="511.4" r="1.65"/><circle cx="395.2" cy="506.7" r="1.65"/><circle cx="398.4" cy="504.8" r="1.65"/><circle cx="401.5" cy="505" r="1.65"/><circle cx="404.5" cy="504.6" r="1.65"/><circle cx="407.5" cy="502" r="1.65"/><circle cx="410" cy="500.8" r="1.65"/><circle cx="413" cy="502" r="1.65"/><circle cx="416" cy="503.5" r="1.65"/><circle cx="419" cy="506" r="1.65"/><circle cx="422" cy="499.8" r="1.65"/><circle cx="425" cy="496.2" r="1.65"/><circle cx="428" cy="497" r="1.65"/><circle cx="431" cy="497.7" r="1.65"/><circle cx="434" cy="498.5" r="1.65"/><circle cx="437" cy="497.5" r="1.65"/><circle cx="440" cy="497" r="1.65"/><circle cx="443" cy="498.5" r="1.65"/><circle cx="446" cy="499.8" r="1.65"/><circle cx="449" cy="497" r="1.65"/><circle cx="452" cy="496.5" r="1.65"/><circle cx="455" cy="501.5" r="1.65"/><circle cx="458" cy="500.5" r="1.65"/><circle cx="461.2" cy="497.8" r="1.65"/><circle cx="464.2" cy="497.8" r="1.65"/><circle cx="467" cy="499.5" r="1.65"/><circle cx="469.8" cy="492.4" r="1.65"/><circle cx="472.9" cy="494.3" r="1.65"/><circle cx="476" cy="493.8" r="1.65"/><circle cx="479.2" cy="492" r="1.65"/><circle cx="482.3" cy="490" r="1.65"/><circle cx="485.3" cy="496.6" r="1.65"/><circle cx="488.6" cy="492" r="1.65"/><circle cx="492.4" cy="486" r="1.65"/><circle cx="495.6" cy="481.4" r="1.65"/><circle cx="498.7" cy="475.5" r="1.65"/><circle cx="501.7" cy="472" r="1.65"/><circle cx="505" cy="466.2" r="1.65"/><circle cx="508.1" cy="451.6" r="1.65"/><circle cx="511.1" cy="443.9" r="1.65"/><circle cx="514.4" cy="434.5" r="1.65"/><circle cx="517.5" cy="427.5" r="1.65"/><circle cx="520.5" cy="416.4" r="1.65"/><circle cx="523.8" cy="410.3" r="1.65"/><circle cx="526.8" cy="399.3" r="1.65"/><circle cx="529.9" cy="398.6" r="1.65"/><circle cx="533.2" cy="393.9" r="1.65"/><circle cx="536.2" cy="389.9" r="1.65"/><circle cx="539.3" cy="386.9" r="1.65"/><circle cx="542.6" cy="386.9" r="1.65"/><circle cx="545.6" cy="386.9" r="1.65"/><circle cx="548.6" cy="386" r="1.65"/><circle cx="551.9" cy="384.5" r="1.65"/><circle cx="555" cy="387.6" r="1.65"/><circle cx="558" cy="384.5" r="1.65"/><circle cx="561.3" cy="392.3" r="1.65"/><circle cx="564.4" cy="391.1" r="1.65"/><circle cx="567.4" cy="393.5" r="1.65"/><circle cx="571" cy="396.6" r="1.65"/><circle cx="573.9" cy="399.5" r="1.65"/><circle cx="576.8" cy="402.5" r="1.65"/><circle cx="579.8" cy="405.4" r="1.65"/><circle cx="582.7" cy="398.6" r="1.65"/><circle cx="585.6" cy="401.5" r="1.65"/><circle cx="588.6" cy="403.8" r="1.65"/><circle cx="592.5" cy="403.4" r="1.65"/><circle cx="595.4" cy="408.3" r="1.65"/><circle cx="598.9" cy="405.4" r="1.65"/><circle cx="602.2" cy="406.4" r="1.65"/><circle cx="605.2" cy="408.9" r="1.65"/><circle cx="608.1" cy="406.4" r="1.65"/><circle cx="611" cy="409.3" r="1.65"/><circle cx="614" cy="414.2" r="1.65"/><circle cx="616.9" cy="417.1" r="1.65"/><circle cx="619.8" cy="419.5" r="1.65"/><circle cx="622.7" cy="420.6" r="1.65"/><circle cx="625.7" cy="420" r="1.65"/><circle cx="628.6" cy="423" r="1.65"/><circle cx="631.5" cy="422" r="1.65"/><circle cx="634.5" cy="421.4" r="1.65"/><circle cx="637.4" cy="424" r="1.65"/><circle cx="640.3" cy="423.4" r="1.65"/><circle cx="643.2" cy="424.9" r="1.65"/><circle cx="646.2" cy="424" r="1.65"/><circle cx="649.1" cy="425.3" r="1.65"/><circle cx="652" cy="427.9" r="1.65"/><circle cx="655" cy="427.3" r="1.65"/><circle cx="657.9" cy="425.3" r="1.65"/><circle cx="660.8" cy="424" r="1.65"/><circle cx="663.8" cy="423" r="1.65"/><circle cx="666.7" cy="421.4" r="1.65"/><circle cx="669.6" cy="419" r="1.65"/><circle cx="672.5" cy="420" r="1.65"/><circle cx="675.5" cy="422" r="1.65"/><circle cx="678.4" cy="423" r="1.65"/><circle cx="681.3" cy="426.9" r="1.65"/><circle cx="684.3" cy="425.9" r="1.65"/><circle cx="687.2" cy="425.3" r="1.65"/><circle cx="690.1" cy="423" r="1.65"/><circle cx="693" cy="421" r="1.65"/><circle cx="696" cy="422.6" r="1.65"/><circle cx="698.9" cy="424.5" r="1.65"/><circle cx="701.2" cy="420" r="1.65"/><circle cx="704.2" cy="421" r="1.65"/><circle cx="706.7" cy="422" r="1.65"/><circle cx="709" cy="422.6" r="1.65"/><circle cx="711.6" cy="418" r="1.65"/><circle cx="714.3" cy="431.8" r="1.65"/></g>
<!-- frame -->
<g stroke="#a6a6a6" stroke-width="2" fill="none">
 <rect x="94" y="59.7" width="620.5" height="467.1"/>
 <line x1="94" y1="215.5" x2="714.5" y2="215.5" stroke-width="1.7"/>
 <line x1="94" y1="371.1" x2="714.5" y2="371.1" stroke-width="1.7"/>
</g>
<!-- tick labels -->
<g class="tick"><text x="68.2" y="75.8" textLength="17" lengthAdjust="spacingAndGlyphs">0.98</text><text x="68.2" y="101.9" textLength="17" lengthAdjust="spacingAndGlyphs">0.96</text><text x="68.2" y="128" textLength="17" lengthAdjust="spacingAndGlyphs">0.94</text><text x="68.2" y="154.1" textLength="17" lengthAdjust="spacingAndGlyphs">0.92</text><text x="68.2" y="180.2" textLength="12.1" lengthAdjust="spacingAndGlyphs">0.9</text><text x="68.2" y="206.4" textLength="17" lengthAdjust="spacingAndGlyphs">0.88</text><text x="68.2" y="229.1" textLength="9.7" lengthAdjust="spacingAndGlyphs">90</text><text x="68.2" y="254" textLength="9.7" lengthAdjust="spacingAndGlyphs">85</text><text x="68.2" y="278.9" textLength="9.7" lengthAdjust="spacingAndGlyphs">80</text><text x="68.2" y="303.9" textLength="9.7" lengthAdjust="spacingAndGlyphs">75</text><text x="68.2" y="328.8" textLength="9.7" lengthAdjust="spacingAndGlyphs">70</text><text x="68.2" y="353.7" textLength="9.7" lengthAdjust="spacingAndGlyphs">65</text><text x="68.2" y="437.1" textLength="17" lengthAdjust="spacingAndGlyphs">6.31</text><text x="129.8" y="543.2" text-anchor="middle" textLength="9.7" lengthAdjust="spacingAndGlyphs">30</text><text x="202.9" y="543.2" text-anchor="middle" textLength="9.7" lengthAdjust="spacingAndGlyphs">40</text><text x="276" y="543.2" text-anchor="middle" textLength="9.7" lengthAdjust="spacingAndGlyphs">50</text><text x="349.1" y="543.2" text-anchor="middle" textLength="9.7" lengthAdjust="spacingAndGlyphs">60</text><text x="422.2" y="543.2" text-anchor="middle" textLength="9.7" lengthAdjust="spacingAndGlyphs">70</text><text x="495.3" y="543.2" text-anchor="middle" textLength="9.7" lengthAdjust="spacingAndGlyphs">80</text><text x="568.3" y="543.2" text-anchor="middle" textLength="9.7" lengthAdjust="spacingAndGlyphs">90</text><text x="641.4" y="543.2" text-anchor="middle" textLength="14.6" lengthAdjust="spacingAndGlyphs">100</text><text x="714.8" y="543.2" text-anchor="end" textLength="14.6" lengthAdjust="spacingAndGlyphs">110</text></g>
<!-- axis titles -->
<g class="ttl" text-anchor="middle">
 <text transform="translate(48,138.6) rotate(-90)" textLength="21.6">Ratio</text>
 <text transform="translate(60.3,136.2) rotate(-90)" textLength="71.2">350 nm / 330 nm</text>
 <text transform="translate(48,294.3) rotate(-90)" textLength="36.6">Turbidity</text>
 <text transform="translate(60.3,291.7) rotate(-90)" textLength="26.6">[mAU]</text>
 <text transform="translate(48,449.4) rotate(-90)" textLength="70">Cumulant Radius</text>
 <text transform="translate(60.3,448) rotate(-90)" textLength="19.4">[nm]</text>
 <text x="404.25" y="558.9" textLength="73">Temperature [°C]</text>
</g>
</svg>
</body></html>
